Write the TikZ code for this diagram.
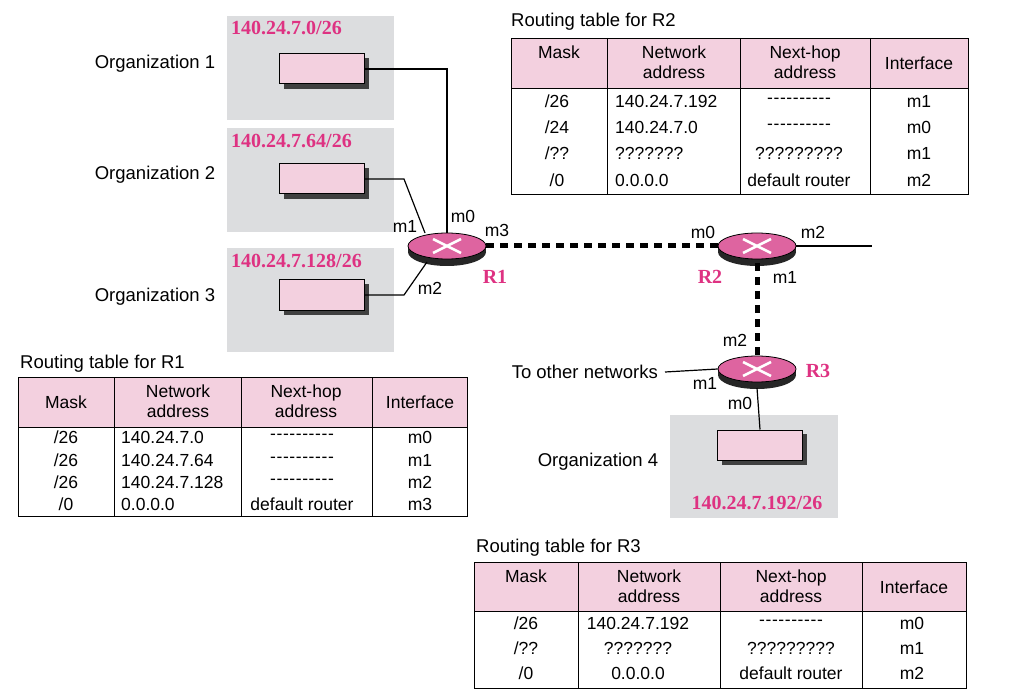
\documentclass[tikz,border=0pt]{standalone}
\usetikzlibrary{shapes.geometric}
\usepackage{fontspec}
\setmainfont{Liberation Sans}
\newfontfamily\netfont{Liberation Serif}
\newcommand\mydashes{-\kern0.6pt-\kern0.6pt-\kern0.6pt-\kern0.6pt-\kern0.6pt-\kern0.6pt-\kern0.6pt-\kern0.6pt-\kern0.6pt-}
\begin{document}
\definecolor{gbg}{RGB}{220,221,223}
\definecolor{pbox}{RGB}{243,208,223}
\definecolor{rpink}{RGB}{222,100,160}
\definecolor{lab}{RGB}{222,50,130}
\begin{tikzpicture}[x=1pt,y=-1pt,
  txt/.style={font=\fontsize{18.5}{21}\selectfont,inner sep=0},
  sm/.style={font=\fontsize{17.5}{20}\selectfont,inner sep=0},
  net/.style={font=\netfont\bfseries\fontsize{20}{22}\selectfont,text=lab,inner sep=0},
  rl/.style={font=\netfont\bfseries\fontsize{20}{22}\selectfont,text=lab,inner sep=0},
  org/.style={fill=gbg,draw=none},
  host/.style={draw=black,fill=pbox,line width=1pt,minimum width=85,minimum height=30,inner sep=0},
  link/.style={line width=1.2pt},
  dlink/.style={line width=5pt,dash pattern=on 8pt off 6pt},
  tbl/.style={draw=black,line width=0.6pt},
  hd/.style={fill=pbox,draw=black,line width=0.6pt}]
\useasboundingbox (0,0) rectangle (1024,700);
% org areas
\fill[org] (227,16) rectangle (394,120);
\fill[org] (227,128) rectangle (394,232);
\fill[org] (227,248) rectangle (394,352);
\fill[org] (670,415) rectangle (838,518);
% hosts with shadows
\foreach \n/\x/\y in {h1/322/69,h2/322/179,h3/322/295,h4/760/445}{
  \fill[black!75] (\x-38,\y-11) rectangle (\x+47,\y+20);
  \node[host] (\n) at (\x,\y) {};
}
\node[net,anchor=west] (n1) at (231,28) {140.24.7.0/26};
\node[net,anchor=west] (n2) at (231,141) {140.24.7.64/26};
\node[net,anchor=west] (n3) at (231,261) {140.24.7.128/26};
\node[net] (n4) at (757,503) {140.24.7.192/26};
\node[txt] (o1) at (155,64) {Organization 1};
\node[txt] (o2) at (155,175) {Organization 2};
\node[txt] (o3) at (155,297) {Organization 3};
\node[txt] (o4) at (598,462) {Organization 4};
% routers
\foreach \r/\x/\y in {R1/447/246,R2/757/246,R3/757/369}{
  \fill[black!85] (\x,\y+6) ellipse (39 and 14);
  \fill[black!85] (\x-39,\y) rectangle (\x+39,\y+6);
  \node[ellipse,fill=rpink,draw=black,line width=0.8pt,minimum width=78,minimum height=26,inner sep=0] (\r) at (\x,\y) {};
  \draw[white,line width=2.5pt] (\x-14,\y-7) -- (\x+14,\y+7) (\x-14,\y+7) -- (\x+14,\y-7);
}
\coordinate (a1) at (447,69);
\coordinate (a2) at (404,179);
\coordinate (a3) at (404,295);
\draw[link] (h1.east) -- (a1) -- (R1.north);
\draw[link] (h2.east) -- (a2) -- (425,233);
\draw[link] (h3.east) -- (a3) -- (427,262);
\draw[dlink] (R1.east) -- (R2.west);
\coordinate (e2) at (872,246);
\draw[link] (R2.east) -- (e2);
\draw[dlink] (757,263) -- (R3.north);
\node[txt,anchor=east] (oth) at (658,372) {To other networks};
\coordinate (oe) at (665,372);
\draw[link] (oe) -- (R3.west);
\draw[link] (757,388) -- (h4.north);
% interface labels
\node[sm] (l1) at (405,226) {m1};
\node[sm] (l2) at (463,216) {m0};
\node[sm] (l3) at (497,230) {m3};
\node[sm] (l4) at (430,288) {m2};
\node[rl] (r1l) at (495,277) {R1};
\node[sm] (l5) at (703,232) {m0};
\node[sm] (l6) at (813,232) {m2};
\node[rl] (r2l) at (710,277) {R2};
\node[sm] (l7) at (785,277) {m1};
\node[sm] (l8) at (735,340) {m2};
\node[sm] (l9) at (705,383) {m1};
\node[sm] (l10) at (740,403) {m0};
\node[rl] (r3l) at (818,371) {R3};
% ---- Table R2
\node[txt,anchor=west] (t2) at (511,22) {Routing table for R2};
\draw[hd] (511,38) rectangle (968,88);
\draw[tbl] (511,88) rectangle (968,194);
\foreach \c in {607,740,870}{\draw[tbl] (\c,38) -- (\c,194);}
\node[sm] (t2h1) at (559,52) {Mask};
\node[sm,align=center] (t2h2) at (674,62) {Network\\address};
\node[sm,align=center] (t2h3) at (805,62) {Next-hop\\address};
\node[sm] (t2h4) at (919,63) {Interface};
\foreach \m/\a/\h/\i/\y [count=\k] in {26/140.24.7.192/\mydashes/m1/101,24/140.24.7.0/\mydashes/m0/127,??/???????/?????????/m1/153,0/0.0.0.0/default router/m2/180}{
  \node[sm] (t2m\k) at (557,\y) {/\m};
  \node[sm,anchor=west] (t2a\k) at (615,\y) {\a};
  \node[sm] (t2n\k) at (799,\y) {\h};
  \node[sm] (t2i\k) at (919,\y) {\i};
}
% ---- Table R1
\node[txt,anchor=west] (t1) at (20,364) {Routing table for R1};
\draw[hd] (18,377) rectangle (467,427);
\draw[tbl] (18,427) rectangle (467,516);
\foreach \c in {114,241,372}{\draw[tbl] (\c,377) -- (\c,516);}
\node[sm] (t1h1) at (66,402) {Mask};
\node[sm,align=center] (t1h2) at (178,401) {Network\\address};
\node[sm,align=center] (t1h3) at (306,401) {Next-hop\\address};
\node[sm] (t1h4) at (420,402) {Interface};
\foreach \m/\a/\h/\i/\y [count=\k] in {26/140.24.7.0/\mydashes/m0/437,26/140.24.7.64/\mydashes/m1/460,26/140.24.7.128/\mydashes/m2/482,0/0.0.0.0/default router/m3/504}{
  \node[sm] (t1m\k) at (66,\y) {/\m};
  \node[sm,anchor=west] (t1a\k) at (121,\y) {\a};
  \node[sm] (t1n\k) at (302,\y) {\h};
  \node[sm] (t1i\k) at (420,\y) {\i};
}
% ---- Table R3
\node[txt,anchor=west] (t3) at (476,548) {Routing table for R3};
\draw[hd] (474,562) rectangle (966,611);
\draw[tbl] (474,611) rectangle (966,688);
\foreach \c in {578,720,862}{\draw[tbl] (\c,562) -- (\c,688);}
\node[sm] (t3h1) at (526,576) {Mask};
\node[sm,align=center] (t3h2) at (649,586) {Network\\address};
\node[sm,align=center] (t3h3) at (791,586) {Next-hop\\address};
\node[sm] (t3h4) at (914,587) {Interface};
\foreach \m/\a/\h/\i/\y [count=\k] in {26/140.24.7.192/\mydashes/m0/623,??/???????/?????????/m1/648,0/0.0.0.0/default router/m2/673}{
  \node[sm] (t3m\k) at (526,\y) {/\m};
  \node[sm] (t3a\k) at (638,\y) {\a};
  \node[sm] (t3n\k) at (791,\y) {\h};
  \node[sm] (t3i\k) at (912,\y) {\i};
}
\end{tikzpicture}
\end{document}
